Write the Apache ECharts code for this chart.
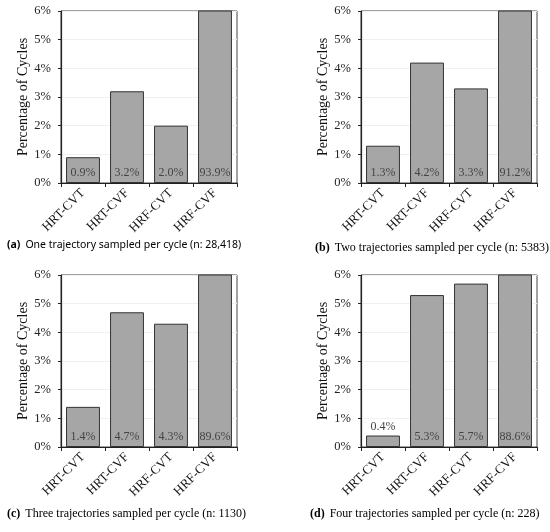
<!DOCTYPE html>
<html>
<head>
<meta charset="utf-8">
<script src="https://cdn.jsdelivr.net/npm/echarts@6/dist/echarts.min.js"></script>
<style>
  html, body { margin: 0; padding: 0; background: #fff; }
  #chart { width: 550px; height: 532px; }
</style>
</head>
<body>
<div id="chart"></div>
<script>
// categories and values (percent of cycles)
const categories = ['HRT-CVT', 'HRT-CVF', 'HRF-CVT', 'HRF-CVF'];
const oneTrajectory = [0.9, 3.2, 2.0, 93.9];
const twoTrajectories = [1.3, 4.2, 3.3, 91.2];
const threeTrajectories = [1.4, 4.7, 4.3, 89.6];
const fourTrajectories = [0.4, 5.3, 5.7, 88.6];
const yTicks = ['0%', '1%', '2%', '3%', '4%', '5%', '6%'];
const panelLetters = ['a', 'b', 'c', 'd'];
const panelCaptions = [
  'One trajectory sampled per cycle (n: 28,418)',
  'Two trajectories sampled per cycle (n: 5383)',
  'Three trajectories sampled per cycle (n: 1130)',
  'Four trajectories sampled per cycle (n: 228)',
];

const serif = 'Liberation Serif';
const panels = [oneTrajectory, twoTrajectories, threeTrajectories, fourTrajectories];

const grids = [
  { left: 61, top: 11, width: 176, height: 172 },
  { left: 361, top: 11, width: 176, height: 172 },
  { left: 61, top: 275, width: 176, height: 172 },
  { left: 361, top: 275, width: 176, height: 172 },
];

const captionPos = [
  { left: 7, top: 236 },
  { left: 315, top: 239 },
  { left: 7, top: 505 },
  { left: 310, top: 505 },
];

const chart = echarts.init(document.getElementById('chart'));

chart.setOption({
  animation: false,
  title: panelCaptions.map((text, i) => {
    const family = i === 0 ? 'Noto Sans' : serif;
    const size = i === 0 ? 10.5 : 12;
    return {
      left: captionPos[i].left,
      top: captionPos[i].top,
      padding: 0,
      text: `{b|(${panelLetters[i]})} {t|${text}}`,
      textStyle: {
        fontWeight: 'normal',
        rich: {
          b: { fontWeight: 'bold', fontSize: size, color: '#000', fontFamily: family },
          t: { fontWeight: 'normal', fontSize: size, color: '#000', fontFamily: family },
        },
      },
    };
  }),
  grid: grids.map((g) => ({
    ...g,
    show: true,
    borderColor: '#444',
    borderWidth: 1,
    backgroundColor: '#fff',
  })),
  xAxis: panels.map((_, i) => ({
    type: 'category',
    gridIndex: i,
    data: categories,
    axisLine: { lineStyle: { color: '#222', width: 1.2 } },
    axisTick: { show: true, length: 4, lineStyle: { color: '#222' } },
    axisLabel: {
      rotate: 45,
      margin: 8,
      fontFamily: serif,
      fontSize: 13,
      color: '#111',
    },
  })),
  yAxis: panels.map((_, i) => ({
    type: 'value',
    gridIndex: i,
    min: 0,
    max: 6,
    interval: 1,
    name: 'Percentage of Cycles',
    nameLocation: 'middle',
    nameGap: 27,
    nameTextStyle: { fontFamily: serif, fontSize: 14, color: '#111' },
    axisLine: { show: true, lineStyle: { color: '#222', width: 1.2 } },
    axisTick: { show: true, length: 3, lineStyle: { color: '#222' } },
    axisLabel: {
      margin: 10,
      fontFamily: serif,
      fontSize: 12.5,
      color: '#222',
      formatter: (v) => yTicks[v],
    },
    splitLine: { show: true, lineStyle: { color: '#f0f0f0', width: 1 } },
  })),
  series: panels.map((values, i) => ({
    type: 'bar',
    xAxisIndex: i,
    yAxisIndex: i,
    barCategoryGap: '23%',
    clip: true,
    itemStyle: { color: '#a6a6a6', borderColor: '#333', borderWidth: 1 },
    label: {
      show: true,
      position: 'insideBottom',
      distance: 4,
      fontFamily: serif,
      fontSize: 12,
      color: '#444',
      formatter: (p) => p.value.toFixed(1) + '%',
    },
    data: values.map((v) => ({
      value: v,
      label: v < 1 && i === 3 ? { position: 'top', distance: 3 } : undefined,
    })),
  })),
});
</script>
</body>
</html>
